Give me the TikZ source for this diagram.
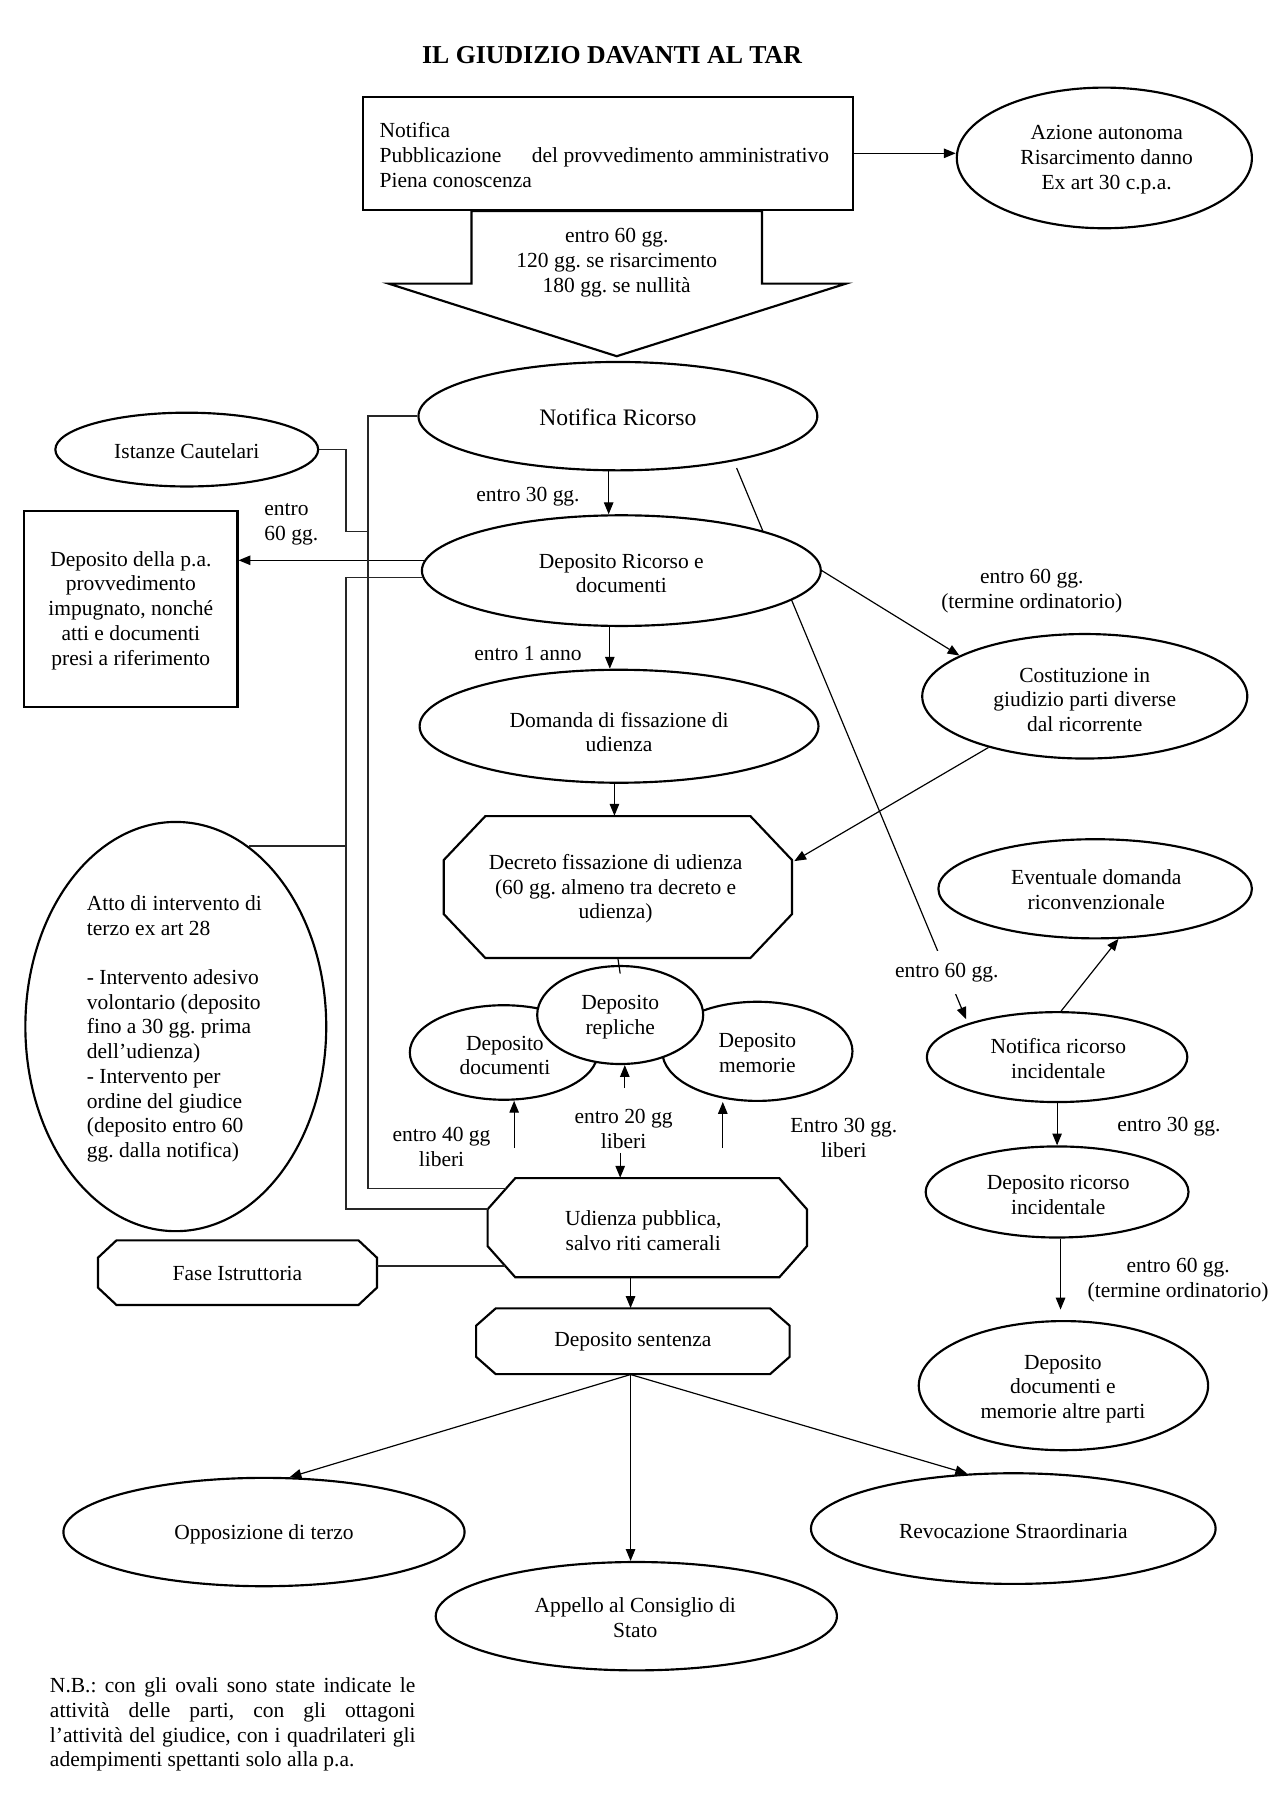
\documentclass[tikz,border=0pt]{standalone}
\usepackage{fontspec}
\setmainfont{Liberation Serif}
\usetikzlibrary{arrows.meta,shapes.geometric}
\pgfdeclarelayer{bg}
\pgfsetlayers{bg,main}
\newcommand\octo[6]{\draw[shp] ({#1+#5},#2) -- ({#3-#5},#2) -- (#3,{#2+#6}) -- (#3,{#4-#6}) -- ({#3-#5},#4) -- ({#1+#5},#4) -- (#1,{#4-#6}) -- (#1,{#2+#6}) -- cycle;}
\begin{document}
\frenchspacing
\begin{tikzpicture}[x=0.5363pt,y=-0.5363pt,
  shp/.style={draw, line width=1pt, line join=miter},
  ell/.style 2 args={ellipse, draw, line width=1pt, fill=white, inner sep=0pt,
     minimum width=#1*0.5363pt, minimum height=#2*0.5363pt},
  rbox/.style 2 args={rectangle, draw, line width=1pt, fill=white, inner sep=0pt,
     minimum width=#1*0.5363pt, minimum height=#2*0.5363pt},
  onode/.style 2 args={rectangle, inner sep=0pt,
     minimum width=#1*0.5363pt, minimum height=#2*0.5363pt},
  txt/.style={font=\fontsize{10}{11.5}\selectfont, align=center, inner sep=0pt},
  conn/.style={line width=0.55pt},
  arr/.style={conn, -{Triangle[length=5.5pt,width=4.4pt]}},
  bus/.style={line width=0.75pt, black!85}]
\useasboundingbox (0,0) rectangle (1110,1571);
\begin{pgfonlayer}{bg}
\fill[white] (0,0) rectangle (1110,1571);
\end{pgfonlayer}

% title
\node[font=\bfseries\fontsize{12}{14}\selectfont, inner sep=0pt] (title) at (531,48) {IL GIUDIZIO DAVANTI AL TAR};

% top box
\node[rbox={425}{98}] (top) at (527.5,133) {};
\node[txt, align=left, anchor=west] (topt) at (329,134.5) {Notifica\\ \makebox[70.8pt][l]{Pubblicazione}del provvedimento amministrativo\\ Piena conoscenza};

% azione autonoma
\node[ell={256}{122}] (az) at (958,137) {};
\node[txt] (azt) at (960,138.5) {Azione autonoma\\Risarcimento danno\\Ex art 30 c.p.a.};
\draw[arr] (top.east) -- (top.east -| az.west);

% block arrow
\draw[shp, fill=white] (409,183) -- (661,183) -- (661,246) -- (734,246) -- (535,309) -- (337,246) -- (409,246) -- cycle;
\node[txt] (bat) at (535,228) {entro 60 gg.\\120 gg. se risarcimento\\180 gg. se nullità};

% main column ellipses
\node[ell={346}{94}] (nr) at (536,361) {};
\node[txt, font=\fontsize{11}{13}\selectfont] (nrt) at (536,362) {Notifica Ricorso};

\node[ell={228}{64}] (ist) at (162,390) {};
\node[txt] (istt) at (162,391) {Istanze Cautelari};

\node[rbox={185}{170}] (pa) at (113.5,528) {};
\node[txt] (pat) at (113.5,529.5) {Deposito della p.a.\\provvedimento\\impugnato, nonché\\atti e documenti\\presi a riferimento};

\node[txt, align=left, anchor=west] (l60a) at (229,455) {entro\\60 gg.};

\node[ell={346}{96}] (dr) at (539,495) {};
\node[txt] (drt) at (539,497.5) {Deposito Ricorso e\\documenti};

\node[ell={346}{98}] (dom) at (537,630) {};
\node[txt] (domt) at (537,635) {Domanda di fissazione di\\udienza};

\node[ell={282}{108}] (cos) at (941,604) {};
\node[txt] (cost) at (941,607) {Costituzione in\\giudizio parti diverse\\dal ricorrente};

% decreto
\octo{385}{708}{687}{831}{36}{38}
\node[onode={302}{123}] (dec) at (536,769.5) {};
\node[txt] (dect) at (534,771) {Decreto fissazione di udienza\\(60 gg. almeno tra decreto e\\udienza)};

% deposito cluster
\node[ell={163}{82}] (doc) at (437,913) {};
\node[txt] (doct) at (438,915.5) {Deposito\\documenti};
\node[ell={165}{86}] (mem) at (657,912) {};
\node[txt] (memt) at (657,913.5) {Deposito\\memorie};
\node[ell={144}{85}] (rep) at (538,880.5) {};
\node[txt] (rept) at (538,882.5) {Deposito\\repliche};
\draw[conn] (dec.south) -- ([yshift=-4pt]rep.north);

% atto di intervento
\node[ell={261}{355}] (atto) at (152.5,890.5) {};
\node[txt, align=left, anchor=west] (attot) at (75,892.5) {Atto di intervento di\\terzo ex art 28\\[11.5pt]- Intervento adesivo\\volontario (deposito\\fino a 30 gg. prima\\dell’udienza)\\- Intervento per\\ordine del giudice\\(deposito entro 60\\gg. dalla notifica)};

% udienza, fase, sentenza
\octo{423}{1022}{700}{1108}{24}{27}
\node[onode={277}{86}] (ud) at (561.5,1065) {};
\node[txt] (udt) at (558,1067.5) {Udienza pubblica,\\salvo riti camerali};

\octo{85}{1076}{327}{1132}{16}{15}
\node[onode={242}{56}] (fase) at (206,1104) {};
\node[txt] (faset) at (206,1105) {Fase Istruttoria};

\octo{413}{1135}{685}{1192}{17}{15}
\node[onode={272}{57}] (sen) at (549,1163.5) {};
\node[txt] (sent) at (549,1164) {Deposito sentenza};

% bottom ellipses
\node[ell={348}{94}] (opp) at (229,1329) {};
\node[txt] (oppt) at (229,1331) {Opposizione di terzo};
\node[ell={348}{94}] (app) at (552,1402) {};
\node[txt] (appt) at (551,1403.5) {Appello al Consiglio di\\Stato};
\node[ell={351}{96}] (rev) at (879,1326) {};
\node[txt] (revt) at (879,1328) {Revocazione Straordinaria};

% right column
\node[ell={272}{86}] (ric) at (950,771) {};
\node[txt] (rict) at (951,771.5) {Eventuale domanda\\riconvenzionale};
\node[ell={226}{78}] (inc) at (917,917) {};
\node[txt] (inct) at (918,918.5) {Notifica ricorso\\incidentale};
\node[ell={228}{79}] (dinc) at (917,1034) {};
\node[txt] (dinct) at (918,1036.5) {Deposito ricorso\\incidentale};
\node[ell={251}{112}] (alt) at (922.5,1202) {};
\node[txt] (altt) at (922,1205) {Deposito\\documenti e\\memorie altre parti};

% labels
\node[txt] (l30) at (458,431) {entro 30 gg.};
\node[txt] (l1a) at (458,567) {entro 1 anno};
\node[txt] (l60o) at (895,512.5) {entro 60 gg.\\(termine ordinatorio)};
\node[txt] (l40) at (383,995) {entro 40 gg\\liberi};
\node[txt] (l20) at (541,979.5) {entro 20 gg\\liberi};
\node[txt] (l30l) at (732,987) {Entro 30 gg.\\liberi};
\node[txt] (l30i) at (1014,977) {entro 30 gg.};
\node[txt] (l60i) at (1022,1110.5) {entro 60 gg.\\(termine ordinatorio)};
\node[txt, align=left, anchor=west] (nb) at (43,1496) {%
\makebox[170pt][s]{N.B.: con gli ovali sono state indicate le}\\
\makebox[170pt][s]{attività delle parti, con gli ottagoni}\\
\makebox[170pt][s]{l’attività del giudice, con i quadrilateri gli}\\
adempimenti spettanti solo alla p.a.};

% coordinates
\coordinate (c1) at (528,0);
\coordinate (c1b) at (529,0);
\coordinate (c2) at (533,0);
\coordinate (c3) at (547,0);
\coordinate (decR) at (689,747);
\coordinate (a40) at (446,996);
\coordinate (a20) at (542,944);
\coordinate (a30) at (627,996);
\coordinate (a20b) at (538,1000);
\coordinate (tipAlt) at (920,1136);
\coordinate (diagS) at (639,406);
\coordinate (diagE) at (838,884);
\coordinate (inA) at (319,1031);
\coordinate (udA) at (439,1031);
\coordinate (istK) at (300,461);
\coordinate (istJ) at (319,461);
\coordinate (outK) at (300,1049);
\coordinate (udB) at (423,1049);
\coordinate (udC) at (438,1098);
\coordinate (fan) at (sen.south -| c3);

% connectors
\draw[arr] (nr.south -| c1) -- (dr.north -| c1);
\draw[arr] (dr.south -| c1b) -- (dom.north -| c1b);
\draw[arr] (dom.south -| c2) -- (dec.north -| c2);
\draw[arr] (dr.177) -- (dr.177 -| pa.east);
\draw[arr] (dr.east) -- (cos.162);
\draw[arr] (cos.208) -- (decR);
\draw[arr] (a40) -- (a40 |- doc.south);
\draw[arr] (a20) -- (a20 |- rep.south);
\draw[arr] (a30) -- (a30 |- mem.south);
\draw[arr] (a20b) -- (a20b |- ud.north);
\draw[arr] (ud.south -| c3) -- (sen.north -| c3);
\draw[arr] (fan) -- (opp.65);
\draw[arr] (fan) -- (app.north -| fan);
\draw[arr] (fan) -- (rev.130);
\draw[arr] (inc.85) -- (ric.-65);
\draw[arr] (inc.south) -- (inc.south |- dinc.north);
\draw[arr] (dinc.south -| tipAlt) -- (tipAlt);

\begin{pgfonlayer}{bg}
\draw[arr] (diagS) -- node[txt, pos=0.916, fill=white, inner xsep=1pt, inner ysep=5.5pt] (l60d) {entro 60 gg.} (diagE);
\end{pgfonlayer}

% buses
\draw[bus] (nr.west) -| (inA) -- (udA);
\draw[bus] (ist.east) -| (istK) -- (istJ);
\draw[bus] (dr.182) -| (outK) -- (udB);
\draw[bus] (atto.68) -- (atto.68 -| outK);
\draw[bus] (fase.east |- udC) -- (udC);
\end{tikzpicture}
\end{document}
